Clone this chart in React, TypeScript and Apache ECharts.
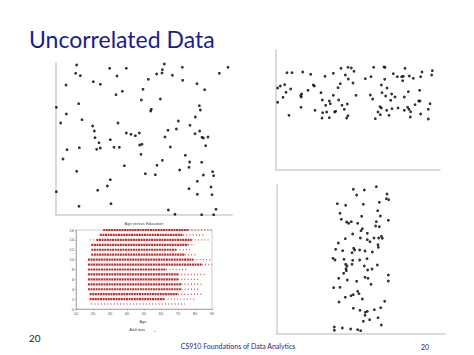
import React, { useEffect, useRef } from "react";
import * as echarts from "echarts";

// Top-left scatter [x, y]
const scatterA: number[][] = [
  [110, 470], [107, 445], [121, 438], [78, 410], [209, 460], [259, 460], [231, 437], [160, 420], [181, 412],
  [373, 473], [367, 456], [366, 446], [350, 443], [427, 463], [397, 439], [428, 424], [325, 427], [564, 463],
  [538, 445], [471, 414], [494, 396], [309, 397], [247, 391], [228, 381], [304, 365], [361, 368], [49, 343],
  [116, 354], [79, 323], [62, 296], [126, 306], [334, 337], [332, 332], [478, 348], [481, 335], [466, 314],
  [415, 302], [450, 289], [409, 278], [384, 274], [158, 287], [163, 272], [234, 296], [165, 252], [177, 237],
  [181, 221], [170, 217], [211, 246], [222, 223], [238, 223], [259, 266], [273, 262], [286, 258], [298, 266],
  [299, 230], [306, 232], [303, 202], [375, 254], [391, 224], [465, 264], [479, 272], [486, 253], [490, 251],
  [504, 254], [497, 228], [81, 216], [118, 222], [69, 188], [110, 151], [253, 168], [316, 144], [346, 141],
  [351, 169], [367, 184], [419, 155], [436, 199], [449, 179], [447, 163], [485, 178], [490, 140], [518, 150],
  [521, 138], [211, 126], [202, 107], [173, 94], [472, 121], [447, 99], [513, 104], [472, 82], [516, 81],
  [49, 90], [213, 54], [117, 46], [528, 37], [385, 35], [405, 22], [485, 21], [521, 21],
];

// Top-right scatter [x, y]
const scatterB: number[][] = [
  [66, 292], [81, 292], [113, 294], [137, 287], [180, 281], [205, 290], [228, 305], [249, 308], [259, 306],
  [267, 296], [241, 285], [250, 273], [264, 261], [226, 259], [219, 247], [301, 274], [318, 280], [326, 308],
  [357, 309], [360, 308], [385, 289], [397, 280], [410, 280], [415, 281], [413, 268], [420, 305], [433, 282],
  [445, 275], [467, 280], [471, 294], [502, 298], [500, 285], [38, 246], [46, 252], [59, 256], [63, 233],
  [77, 243], [54, 218], [38, 203], [107, 223], [110, 228], [109, 219], [129, 239], [145, 255], [148, 252],
  [108, 188], [72, 164], [150, 179], [168, 232], [172, 210], [182, 194], [193, 207], [196, 199], [205, 224],
  [221, 210], [231, 194], [247, 198], [238, 182], [273, 224], [173, 172], [185, 174], [171, 156], [193, 157],
  [209, 174], [212, 176], [249, 163], [245, 156], [359, 272], [349, 255], [366, 246], [351, 232], [362, 222],
  [380, 228], [377, 209], [390, 219], [316, 225], [323, 213], [345, 190], [349, 186], [365, 179], [381, 184],
  [399, 186], [339, 174], [346, 166], [331, 154], [372, 164], [418, 219], [430, 235], [418, 179], [428, 188],
  [432, 182], [437, 175], [436, 159], [450, 196], [461, 207], [464, 239], [465, 207], [467, 168], [490, 153],
  [490, 182], [495, 199],
];

// Bottom-right scatter [x, y]
const scatterC: number[][] = [
  [190, 442], [223, 440], [259, 450], [200, 425], [291, 428], [289, 414], [296, 411], [142, 399], [167, 394],
  [220, 397], [268, 403], [150, 370], [154, 352], [170, 344], [176, 340], [184, 345], [203, 340], [215, 361],
  [263, 378], [271, 362], [259, 345], [295, 349], [257, 332], [268, 330], [217, 324], [213, 318], [232, 310],
  [188, 308], [166, 294], [211, 296], [232, 291], [240, 285], [252, 296], [266, 296], [274, 301], [277, 295],
  [264, 276], [265, 268], [145, 281], [137, 262], [158, 258], [191, 265], [194, 260], [186, 252], [209, 260],
  [225, 257], [247, 254], [129, 235], [135, 230], [162, 232], [188, 229], [209, 230], [231, 234], [167, 217],
  [171, 212], [168, 204], [169, 198], [186, 217], [223, 212], [233, 200], [246, 203], [262, 215], [161, 190],
  [146, 175], [172, 170], [200, 166], [225, 178], [234, 175], [243, 157], [295, 185], [295, 167], [131, 147],
  [150, 148], [166, 118], [183, 123], [190, 126], [203, 136], [207, 129], [147, 104], [217, 113], [284, 106],
  [190, 85], [210, 79], [226, 73], [232, 76], [225, 64], [239, 51], [253, 81], [264, 57], [272, 87],
  [220, 46], [274, 35], [133, 29], [133, 19], [157, 26], [182, 23], [203, 21], [212, 18],
];

// Age versus Education (Adult data): per education level, age ranges
const eduLevels = [1, 2, 3, 4, 5, 6, 7, 8, 9, 10, 11, 12, 13, 14, 15, 16];
const ageSparseMin = [19, 18, 18, 17, 17, 17, 17, 17, 17, 17, 19, 19, 19, 18, 24, 26];
const ageDenseMin = [19, 18, 18, 17, 17, 17, 17, 17, 17, 17, 19, 19, 19, 22, 24, 26];
const ageDenseMax = [19, 62, 70, 72, 72, 70, 70, 63, 84, 79, 74, 69, 76, 78, 73, 76];
const ageSparseMax = [74, 80, 84, 83, 85, 82, 87, 76, 90, 90, 81, 77, 80, 89, 86, 90];

const BLUE = "#1c1c8c";

export default function App() {
  const ref = useRef<HTMLDivElement>(null);
  useEffect(() => {
    document.body.style.margin = "0";
    const chart = echarts.init(ref.current!, null, { renderer: "svg" });
    const hiddenAxis = (min: number, max: number, gridIndex: number) => ({
      type: "value",
      gridIndex,
      min,
      max,
      axisLine: { show: true, onZero: false, lineStyle: { color: "#cfcfcf", width: 1.5 } },
      axisTick: { show: false },
      axisLabel: { show: false },
      splitLine: { show: false },
    });
    const smallAxis = (min: number, max: number, interval: number) => ({
      type: "value",
      gridIndex: 3,
      min,
      max,
      interval,
      axisLine: { show: true, onZero: false, lineStyle: { color: "#888", width: 0.6 } },
      axisTick: { show: true, length: 1.5, lineStyle: { color: "#888", width: 0.5 } },
      axisLabel: { fontSize: 4, color: "#555", margin: 2, fontFamily: "Liberation Sans" },
      splitLine: { show: false },
    });
    const eduData = eduLevels.map((e, i) => [e, ageSparseMin[i], ageDenseMin[i], ageDenseMax[i], ageSparseMax[i]]);
    chart.setOption({
      animation: false,
      backgroundColor: "#ffffff",
      grid: [
        { left: 56, top: 63, width: 176, height: 152 },
        { left: 276, top: 50, width: 164, height: 120 },
        { left: 277, top: 185, width: 168, height: 149 },
        { left: 76, top: 230, width: 136, height: 79, show: true, borderColor: "#999", borderWidth: 0.5 },
      ],
      xAxis: [
        hiddenAxis(48, 576, 0),
        hiddenAxis(33, 525, 1),
        hiddenAxis(-39, 465, 2),
        smallAxis(10, 90, 10),
      ],
      yAxis: [
        hiddenAxis(20, 476, 0),
        hiddenAxis(0, 360, 1),
        hiddenAxis(8, 455, 2),
        smallAxis(0, 16, 2),
      ],
      series: [
        { type: "scatter", xAxisIndex: 0, yAxisIndex: 0, data: scatterA, symbolSize: 2.8, itemStyle: { color: "#000" } },
        { type: "scatter", xAxisIndex: 1, yAxisIndex: 1, data: scatterB, symbolSize: 2.8, itemStyle: { color: "#000" } },
        { type: "scatter", xAxisIndex: 2, yAxisIndex: 2, data: scatterC, symbolSize: 2.8, itemStyle: { color: "#000" } },
        {
          type: "custom",
          xAxisIndex: 3,
          yAxisIndex: 3,
          data: eduData,
          encode: { x: [1, 2, 3, 4], y: 0 },
          renderItem: (params: any, api: any) => {
            const ed = api.value(0);
            const p0 = api.coord([api.value(1), ed]);
            const p1 = api.coord([api.value(2), ed]);
            const p2 = api.coord([api.value(3), ed]);
            const p3 = api.coord([api.value(4), ed]);
            const seg = (a: number[], b: number[], dense: boolean) => ({
              type: "line",
              shape: { x1: a[0], y1: a[1], x2: b[0], y2: b[1] },
              style: dense
                ? { stroke: "#c82828", lineWidth: 2.2, lineDash: [2, 0.6] }
                : { stroke: "#d65555", lineWidth: 1.4, lineDash: [1, 2.2] },
            });
            const children: any[] = [];
            if (p1[0] > p0[0]) children.push(seg(p0, p1, false));
            if (p2[0] > p1[0]) children.push(seg(p1, p2, true));
            if (p3[0] > p2[0]) children.push(seg(p2, p3, false));
            return { type: "group", children };
          },
        },
      ],
      graphic: [
        { type: "text", x: 29, y: 39, style: { text: "Uncorrelated Data", fontSize: 23, fontFamily: "Lato", fill: BLUE, verticalAlign: "middle" } },
        { type: "text", x: 144, y: 223, style: { text: "Age versus Education", fontSize: 4, fontFamily: "Liberation Sans", fill: "#444", align: "center", verticalAlign: "middle" } },
        { type: "text", x: 143, y: 321, style: { text: "Age", fontSize: 4, fontFamily: "Liberation Sans", fill: "#444", align: "center", verticalAlign: "middle" } },
        { type: "text", x: 137, y: 330, style: { text: "Adult data", fontSize: 3.5, fontFamily: "Liberation Sans", fill: "#444", align: "center", verticalAlign: "middle" } },
        { type: "text", x: 155, y: 330, style: { text: "+", fontSize: 4, fontFamily: "Liberation Sans", fill: "#cc3030", align: "center", verticalAlign: "middle" } },
        { type: "text", x: 29, y: 338, style: { text: "20", fontSize: 10, fontFamily: "Lato", fill: "#222", verticalAlign: "middle" } },
        { type: "text", x: 238, y: 346, style: { text: "CS910 Foundations of Data Analytics", fontSize: 7, fontFamily: "Lato", fill: BLUE, align: "center", verticalAlign: "middle" } },
        { type: "text", x: 425, y: 347, style: { text: "20", fontSize: 7, fontFamily: "Lato", fill: BLUE, align: "center", verticalAlign: "middle" } },
      ],
    });
    return () => chart.dispose();
  }, []);
  return <div ref={ref} style={{ width: 474, height: 355 }} />;
}
